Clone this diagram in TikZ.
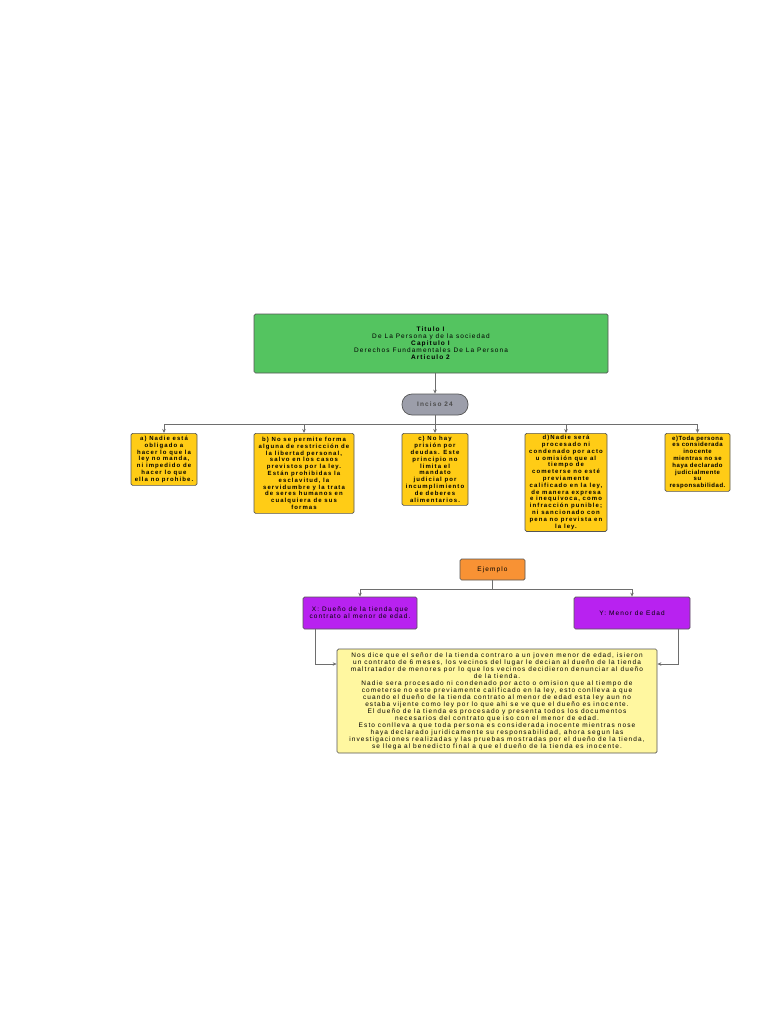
\documentclass[tikz,border=0pt]{standalone}
\usepackage{fontspec}
\setmainfont{Liberation Sans}
\newfontfamily\wfont{Liberation Sans}[LetterSpace=17]
\newfontfamily\bfont{Liberation Sans}[LetterSpace=18]
\newfontfamily\nfont{Liberation Sans}[LetterSpace=9]
\usetikzlibrary{arrows.meta}
\begin{document}
\begin{tikzpicture}[x=1pt,y=-1pt,
    box/.style={draw=kBorder,line width=0.7pt,rounded corners=1.5pt,align=center,inner sep=2pt,
      font=\wfont\fontsize{6.5}{7}\selectfont},
    ybox/.style={box,fill=kYellow,anchor=north,font=\bfont\fontsize{6}{6.8}\selectfont\bfseries},
    line/.style={draw=kLine,line width=0.7pt},
    arrow/.style={line,-{Stealth[length=4pt,width=3.5pt]}}]
  % colors
  \definecolor{kGreen}{RGB}{84,196,96}
  \definecolor{kYellow}{RGB}{255,204,22}
  \definecolor{kPurple}{RGB}{184,34,240}
  \definecolor{kOrange}{RGB}{248,146,52}
  \definecolor{kPill}{RGB}{156,158,170}
  \definecolor{kPale}{RGB}{255,247,160}
  \definecolor{kBorder}{RGB}{85,85,85}
  \definecolor{kLine}{RGB}{110,110,110}
  \useasboundingbox (0,0) rectangle (768,1024);
  % title
  \node[box,fill=kGreen,minimum width=354pt,minimum height=59pt] (tit) at (431,343.5)
    {\textbf{Titulo I}\\De La Persona y de la sociedad\\\textbf{Capitulo I}\\Derechos Fundamentales De La Persona\\\textbf{Articulo 2}};
  \node[box,fill=kPill,rounded corners=10pt,minimum width=66pt,minimum height=21pt,
    font=\wfont\fontsize{6.5}{7}\selectfont\bfseries,text=black!70] (inc) at (435,404.5) {Inciso 24};
  % incisos
  \node[ybox,minimum width=66pt,minimum height=52pt] (a) at (164,433)
    {a) Nadie está\\obligado a\\hacer lo que la\\ley no manda,\\ni impedido de\\hacer lo que\\ella no prohibe.};
  \node[ybox,minimum width=100pt,minimum height=80pt] (b) at (304,433)
    {b) No se permite forma\\alguna de restricción de\\la libertad personal,\\salvo en los casos\\previstos por la ley.\\Están prohibidas la\\esclavitud, la\\servidumbre y la trata\\de seres humanos en\\cualquiera de sus\\formas};
  \node[ybox,minimum width=66pt,minimum height=72pt] (c) at (435,433)
    {c) No hay\\prisión por\\deudas. Este\\principio no\\limita el\\mandato\\judicial por\\incumplimiento\\de deberes\\alimentarios.};
  \node[ybox,minimum width=82pt,minimum height=96pt] (d) at (566,433)
    {d)Nadie será\\procesado ni\\condenado por acto\\u omisión que al\\tiempo de\\cometerse no esté\\previamente\\calificado en la ley,\\de manera expresa\\e inequívoca, como\\infracción punible;\\ni sancionado con\\pena no prevista en\\la ley.};
  \node[ybox,minimum width=65pt,minimum height=58pt,font=\nfont\fontsize{6}{6.8}\selectfont\bfseries] (e) at (697.5,433)
    {e)Toda persona\\es considerada\\inocente\\mientras no se\\haya declarado\\judicialmente\\su\\responsabilidad.};
  % ejemplo
  \node[box,fill=kOrange,minimum width=65pt,minimum height=21pt] (ej) at (492.5,569.5) {Ejemplo};
  \node[box,fill=kPurple,minimum width=114pt,minimum height=32pt] (xb) at (360,613)
    {X: Dueño de la tienda que\\contrato al menor de edad.};
  \node[box,fill=kPurple,minimum width=116pt,minimum height=32pt] (yb) at (632,613) {Y: Menor de Edad};
  \node[box,fill=kPale,minimum width=320pt,minimum height=104pt] (txt) at (497,701)
    {Nos dice que el señor de la tienda contraro a un joven menor de edad, isieron\\
     un contrato de 6 meses, los vecinos del lugar le decian al dueño de la tienda\\
     maltratador de menores por lo que los vecinos decidieron denunciar al dueño\\
     de la tienda.\\
     Nadie sera procesado ni condenado por acto o omision que al tiempo de\\
     cometerse no este previamente calificado en la ley, esto conlleva a que\\
     cuando el dueño de la tienda contrato al menor de edad esta ley aun no\\
     estaba vijente como ley por lo que ahi se ve que el dueño es inocente.\\
     El dueño de la tienda es procesado y presenta todos los documentos\\
     necesarios del contrato que iso con el menor de edad.\\
     Esto conlleva a que toda persona es considerada inocente mientras nose\\
     haya declarado juridicamente su responsabilidad, ahora segun las\\
     investigaciones realizadas y las pruebas mostradas por el dueño de la tienda,\\
     se llega al benedicto final a que el dueño de la tienda es inocente.};
  % connectors
  \coordinate (busA) at (435,424);
  \coordinate (busB) at (492.5,589);
  \draw[arrow] (tit.south -| inc.north) -- (inc.north);
  \draw[line] (inc.south) -- (busA);
  \foreach \n in {a,b,c,d,e}
    \draw[arrow] (busA) -| (\n.north);
  \draw[line] (ej.south) -- (busB);
  \foreach \n in {xb,yb}
    \draw[arrow] (busB) -| (\n.north);
  \draw[arrow] ([xshift=-45pt]xb.south) |- ([yshift=37pt]txt.west);
  \draw[arrow] ([xshift=46pt]yb.south) |- ([yshift=37pt]txt.east);
\end{tikzpicture}
\end{document}
